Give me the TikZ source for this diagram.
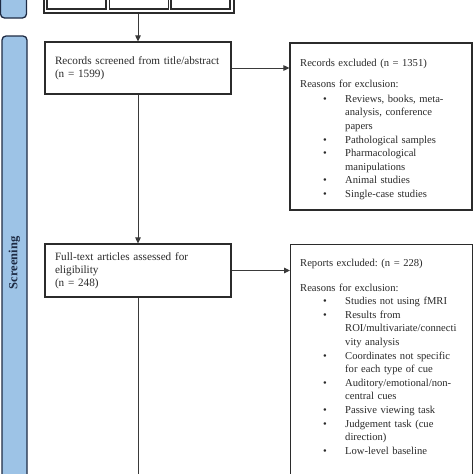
\documentclass[tikz,border=0pt]{standalone}
\usepackage{fontspec}
\setmainfont{Liberation Serif}
\usetikzlibrary{arrows.meta}
\frenchspacing
\definecolor{boxc}{HTML}{2B2B2B}
\definecolor{txtc}{HTML}{2A2A2A}
\definecolor{linec}{HTML}{3A3A3A}
\definecolor{barfill}{HTML}{9DC3E6}
\definecolor{barline}{HTML}{1E2B44}
\newcommand{\bul}{\hspace*{23pt}\makebox[22pt][l]{\textbullet}}
\newcommand{\cont}{\hspace*{45pt}}
\begin{document}
\begin{tikzpicture}[x=1pt,y=-1pt,
  box/.style={draw=boxc, line width=1.1pt, fill=white},
  lbox/.style={box, text width=166pt, inner xsep=10pt, inner ysep=0pt, align=left,
    font=\fontsize{11.2}{12.8}\selectfont, text=txtc},
  rtext/.style={text width=162pt, inner xsep=10pt, inner ysep=0pt, align=left,
    font=\fontsize{10.6}{13.6}\selectfont, text=txtc, anchor=north west},
  sbox/.style={box, inner sep=0pt},
  bar/.style={draw=barline, line width=1.3pt, fill=barfill, rounded corners=4pt},
  conn/.style={draw=linec, line width=0.9pt},
  arr/.style={conn, -{Triangle[length=6pt,width=5.5pt]}}]
\useasboundingbox (0,0) rectangle (474,474);
\clip (0,0) rectangle (474,474);
% phase bars
\node (bar1) [bar, minimum width=26pt, minimum height=40pt, inner sep=0pt] at (13.5,-2) {};
\node (bar2) [bar, rotate=90, minimum width=454pt, minimum height=25pt, inner sep=0pt,
  font=\fontsize{12.5}{14}\selectfont\bfseries, text=barline] at (14.5,263) {Screening};
% top boxes
\node (top) [sbox, minimum width=190pt, minimum height=30pt] at (139,-2) {};
\node (t1) [sbox, minimum width=59pt, minimum height=26pt] at (76.5,-4) {};
\node (t2) [sbox, minimum width=59pt, minimum height=26pt] at (139,-4) {};
\node (t3) [sbox, minimum width=59pt, minimum height=26pt] at (200.5,-4) {};
% left boxes
\node (b1) [lbox, minimum height=52pt] at (138,68) {\mbox{Records screened from title/abstract}\\(n = 1599)};
\node (b2) [lbox, minimum height=53pt] at (138,270.5) {Full-text articles assessed for\\eligibility\\(n = 248)};
% right box 1
\node (rb1) [box, minimum width=182pt, minimum height=167pt, inner sep=0pt] at (381,126.5) {};
\node (rb1t) [rtext] at (290,59) {Records excluded (n = 1351)\\[7pt]
Reasons for exclusion:\\[1.5pt]
\bul Reviews, books, meta-\\
\cont analysis, conference\\
\cont papers\\
\bul Pathological samples\\
\bul Pharmacological\\
\cont manipulations\\
\bul Animal studies\\
\bul Single-case studies};
% right box 2
\node (rb2) [box, minimum width=182pt, minimum height=246pt, inner sep=0pt, anchor=north west] at (290,244) {};
\node (rb2t) [rtext] at (290,259) {Reports excluded: (n = 228)\\[11pt]
Reasons for exclusion:\\
\bul Studies not using fMRI\\
\bul Results from\\
\cont ROI/multivariate/connecti\\
\cont vity analysis\\
\bul Coordinates not specific\\
\cont for each type of cue\\
\bul Auditory/emotional/non-\\
\cont central cues\\
\bul Passive viewing task\\
\bul Judgement task (cue\\
\cont direction)\\
\bul Low-level baseline};
\coordinate (bend) at (138,480);
% connectors
\draw[arr] (top.south -| b1.north) -- (b1.north);
\draw[arr] (b1.east) -- (b1.east -| rb1.west);
\draw[arr] (b1.south) -- (b2.north);
\draw[arr] (b2.east) -- (b2.east -| rb2.west);
\draw[conn] (b2.south) -- (bend);
\end{tikzpicture}
\end{document}
